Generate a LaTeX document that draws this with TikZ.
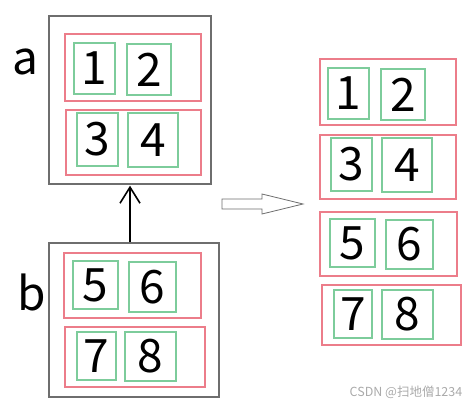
\documentclass[tikz,border=0pt]{standalone}
\usepackage{fontspec}
\setmainfont{Noto Sans CJK SC}
\usetikzlibrary{arrows.meta}
\definecolor{boxgray}{RGB}{110,110,110}
\definecolor{rowred}{RGB}{236,125,138}
\definecolor{cellgreen}{RGB}{125,204,155}
\definecolor{markgray}{RGB}{170,170,170}

\begin{document}
\begin{tikzpicture}[x=1pt, y=-1pt,
    sized/.style n args={2}{minimum width=#1, minimum height=#2},
    outer/.style={draw=boxgray, line width=1.4pt, inner sep=0pt},
    rowbox/.style={draw=rowred, line width=1.2pt, inner sep=0pt},
    cell/.style={draw=cellgreen, line width=1.1pt, inner sep=0pt,
                 font=\fontsize{46}{50}\selectfont},
    letter/.style={font=\fontsize{46}{50}\selectfont}]
    \useasboundingbox (0,0) rectangle (474,404);
    % group a
    \node[outer, sized={162}{168}] (a) at (130,100) {};
    \node[letter] (la) at (25,62) {a};
    \node[rowbox, sized={136}{67}] (a1) at (133,67.5) {};
    \node[cell, sized={41}{51}] (n1) at (94.5,68.5) {1};
    \node[cell, sized={44}{51}] (n2) at (149,69.5) {2};
    \node[rowbox, sized={135}{65}] (a2) at (133.5,142.5) {};
    \node[cell, sized={41}{53}] (n3) at (97.5,139.5) {3};
    \node[cell, sized={50}{54}] (n4) at (153,140) {4};
    % group b
    \node[outer, sized={170}{154}] (b) at (134,320) {};
    \node[letter] (lb) at (32,292) {b};
    \node[rowbox, sized={137}{65}] (b1) at (132.5,285.5) {};
    \node[cell, sized={45}{48}] (n5) at (95.5,285) {5};
    \node[cell, sized={47}{50}] (n6) at (152.5,287) {6};
    \node[rowbox, sized={140}{60}] (b2) at (135,357) {};
    \node[cell, sized={39}{48}] (n7) at (96.5,356) {7};
    \node[cell, sized={51}{49}] (n8) at (150.5,356.5) {8};
    \draw[line width=1.6pt, -{Straight Barb[length=16pt, width=20pt]}]
        (a.south |- b.north) -- ([yshift=-1pt]a.south);
    % block arrow
    \draw[draw=boxgray, line width=0.8pt, fill=white]
        (222,199) -- (262,199) -- (262,194) -- (303,204) -- (262,214)
        -- (262,209) -- (222,209) -- cycle;
    % merged list
    \node[rowbox, sized={136}{66}] (r1) at (388,92) {};
    \node[cell, sized={41}{51}] (m1) at (348.5,93.5) {1};
    \node[cell, sized={44}{51}] (m2) at (403,94.5) {2};
    \node[rowbox, sized={136}{64}] (r2) at (388,167) {};
    \node[cell, sized={41}{53}] (m3) at (351.5,164.5) {3};
    \node[cell, sized={50}{54}] (m4) at (407,165) {4};
    \node[rowbox, sized={137}{64}] (r3) at (388.5,244) {};
    \node[cell, sized={45}{48}] (m5) at (352.5,243) {5};
    \node[cell, sized={47}{49}] (m6) at (409.5,244.5) {6};
    \node[rowbox, sized={139}{60}] (r4) at (391.5,315) {};
    \node[cell, sized={38}{48}] (m7) at (353,314) {7};
    \node[cell, sized={51}{49}] (m8) at (407.5,314.5) {8};
    \node[text=markgray, font=\fontsize{12.5}{14}\selectfont] (mark)
        at (406,392) {CSDN @扫地僧1234};
\end{tikzpicture}
\end{document}
